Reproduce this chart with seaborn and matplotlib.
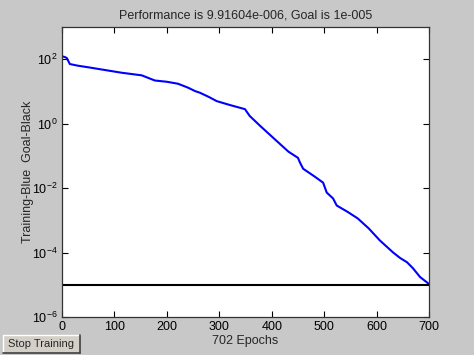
import matplotlib
matplotlib.use("Agg")
import matplotlib.pyplot as plt
import seaborn as sns
import pandas as pd
import numpy as np
from matplotlib.patches import Rectangle
from matplotlib.ticker import FixedLocator, FuncFormatter, NullLocator

epochs = [0, 5, 9, 15, 30, 50, 80, 114, 152, 177, 200, 221, 240, 254, 263, 280, 295, 320,
          349, 358, 378, 409, 432, 450, 454, 460, 480, 498, 505, 517, 524, 545, 564, 585,
          606, 631, 645, 658, 669, 683, 698, 702]
log_perf = [2.09, 2.07, 2.04, 1.85, 1.80, 1.75, 1.67, 1.58, 1.50, 1.34, 1.30, 1.24, 1.12,
            1.01, 0.96, 0.83, 0.70, 0.58, 0.45, 0.24, -0.07, -0.53, -0.87, -1.06, -1.21,
            -1.40, -1.62, -1.83, -2.14, -2.32, -2.54, -2.74, -2.94, -3.25, -3.62, -3.99,
            -4.17, -4.30, -4.48, -4.76, -4.95, -5.0037]
goal = 1e-5
x_ticks = [0, 100, 200, 300, 400, 500, 600, 700]
y_exps = [-6, -4, -2, 0, 2]

title_text = "Performance is 9.91604e-006, Goal is 1e-005"
xlabel_text = "702 Epochs"
ylabel_text = "Training-Blue  Goal-Black"
button_text = "Stop Training"

sns.set_style("ticks")
plt.rcParams['font.family'] = ['Liberation Sans', 'DejaVu Sans']
plt.rcParams['mathtext.fontset'] = 'custom'
plt.rcParams['mathtext.rm'] = 'Liberation Sans'
plt.rcParams['mathtext.it'] = 'Liberation Sans:italic'
plt.rcParams['mathtext.bf'] = 'Liberation Sans:bold'

bg = '#c8c8c8'
df = pd.DataFrame({"epoch": epochs, "perf": [10 ** v for v in log_perf]})
df_goal = pd.DataFrame({"epoch": [0, 702], "perf": [goal, goal]})

fig = plt.figure(figsize=(4.74, 3.55), dpi=100, facecolor=bg)
ax = fig.add_axes([62 / 474, 1 - 317 / 355, (429 - 62) / 474, (317 - 27) / 355])
ax.set_facecolor('white')

sns.lineplot(data=df, x="epoch", y="perf", ax=ax, color='#0000ff', linewidth=1.5)
sns.lineplot(data=df_goal, x="epoch", y="perf", ax=ax, color='black', linewidth=1.5)

ax.set_yscale('log')
ax.set_xlim(0, 700)
ax.set_ylim(1e-6, 1e3)
ax.xaxis.set_major_locator(FixedLocator(x_ticks))
ax.yaxis.set_major_locator(FixedLocator([10.0 ** e for e in y_exps]))
ax.yaxis.set_minor_locator(NullLocator())
ax.yaxis.set_major_formatter(FuncFormatter(lambda v, p: r"$10^{%d}$" % round(np.log10(v))))
ax.tick_params(direction='in', top=True, right=True, length=4, width=0.8,
               labelsize=9, colors='black', pad=3)
for s in ax.spines.values():
    s.set_visible(True)
    s.set_color('#333333')
    s.set_linewidth(0.9)

ax.set_title(title_text, fontsize=9, pad=6)
ax.set_xlabel(xlabel_text, fontsize=9, labelpad=1)
ax.set_ylabel(ylabel_text, fontsize=9)
ax.yaxis.set_label_coords(-0.076, 0.5)

# Stop Training button
bx0, by0, bw, bh = 3 / 474, 1 - 353 / 355, 77 / 474, 18 / 355
fig.patches.append(Rectangle((bx0, by0), bw, bh, transform=fig.transFigure,
                             facecolor='#d4d0c8', edgecolor='none'))
fig.lines.append(plt.Line2D([bx0, bx0 + bw], [by0 + bh, by0 + bh], transform=fig.transFigure, color='white', lw=1))
fig.lines.append(plt.Line2D([bx0, bx0], [by0, by0 + bh], transform=fig.transFigure, color='white', lw=1))
fig.lines.append(plt.Line2D([bx0, bx0 + bw], [by0, by0], transform=fig.transFigure, color='#404040', lw=1.2))
fig.lines.append(plt.Line2D([bx0 + bw, bx0 + bw], [by0, by0 + bh], transform=fig.transFigure, color='#404040', lw=1.2))
fig.text(bx0 + bw / 2, by0 + bh / 2, button_text, ha='center', va='center', fontsize=8)

fig.savefig("out.png", dpi=100, facecolor=bg)
